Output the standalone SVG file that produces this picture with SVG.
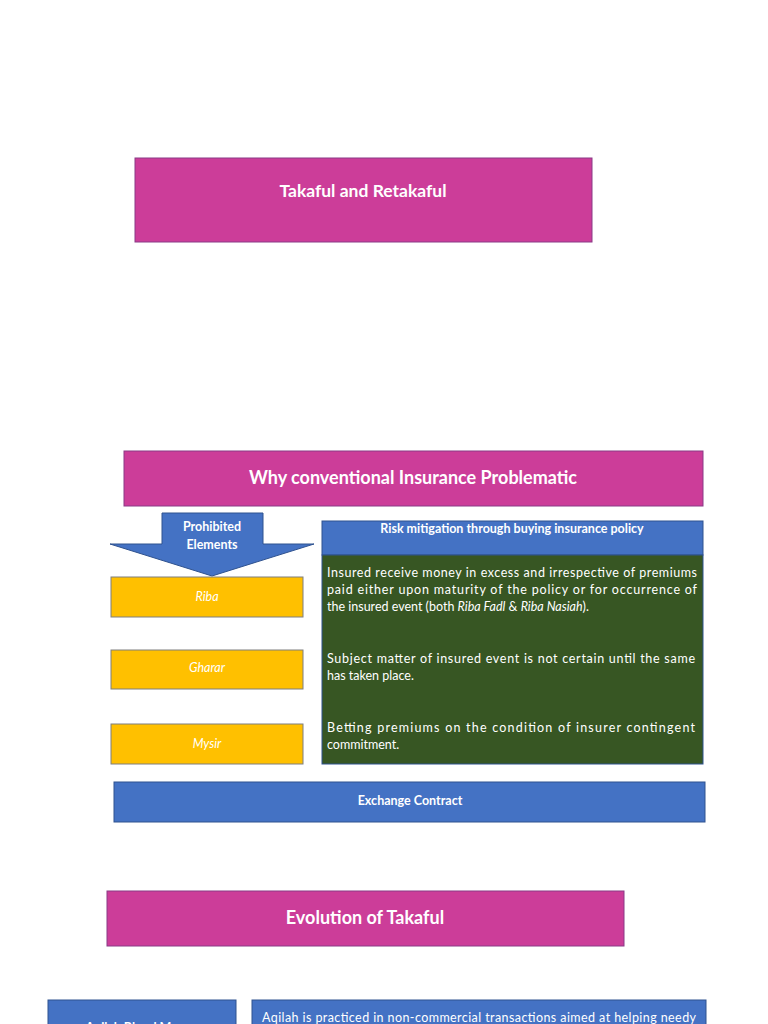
<svg xmlns="http://www.w3.org/2000/svg" width="768" height="1024" viewBox="0 0 768 1024">
<style>
text{font-family:Lato,"Liberation Sans",sans-serif;fill:#fff}
.mag{fill:#cc3d99;stroke:#8a3a86;stroke-width:1}
.blue{fill:#4472c4;stroke:#2f528f;stroke-width:1}
.yel{fill:#ffc000;stroke:#7f7f7f;stroke-width:1}
.grn{fill:#375623;stroke:#2f528f;stroke-width:1}
.t{font-size:12.5px}
.i{font-size:12.5px;font-style:italic}
</style>
<rect width="768" height="1024" fill="#fff"/>
<g id="title1"><rect class="mag" x="135" y="158" width="457" height="84"/><text x="363" y="197" font-size="17.5" font-weight="bold" text-anchor="middle">Takaful and Retakaful</text></g>
<g id="title2"><rect class="mag" x="124" y="451" width="579" height="55"/><text x="413" y="484" font-size="18" font-weight="bold" text-anchor="middle">Why conventional Insurance Problematic</text></g>
<g id="arrow"><polygon points="162,513 263,513 263,544 314,544 212,576 110,544 162,544" fill="#4472c4" stroke="#2f528f"/><text x="212" y="531" class="t" font-weight="bold" text-anchor="middle">Prohibited</text><text x="212" y="549" class="t" font-weight="bold" text-anchor="middle">Elements</text></g>
<g id="riba"><rect class="yel" x="111" y="577" width="192" height="40"/><text x="207" y="601" class="i" text-anchor="middle">Riba</text></g>
<g id="gharar"><rect class="yel" x="111" y="650" width="192" height="39"/><text x="207" y="672" class="i" text-anchor="middle">Gharar</text></g>
<g id="mysir"><rect class="yel" x="111" y="724" width="192" height="40"/><text x="207" y="748" class="i" text-anchor="middle">Mysir</text></g>
<g id="risk"><rect class="blue" x="322" y="521" width="381" height="34"/><text x="512" y="533" class="t" font-weight="bold" text-anchor="middle">Risk mitigation through buying insurance policy</text></g>
<g id="reasons"><rect class="grn" x="322" y="555" width="381" height="209"/>
<text class="t" x="327" y="577" textLength="370" lengthAdjust="spacing">Insured receive money in excess and irrespective of premiums</text>
<text class="t" x="327" y="594" textLength="370" lengthAdjust="spacing">paid either upon maturity of the policy or for  occurrence of</text>
<text class="t" x="327" y="611">the insured event (both <tspan font-style="italic">Riba Fadl</tspan> &amp; <tspan font-style="italic">Riba Nasiah</tspan>).</text>
<text class="t" x="327" y="663" textLength="368" lengthAdjust="spacing">Subject matter of insured event is not certain until the same</text>
<text class="t" x="327" y="680">has taken place.</text>
<text class="t" x="327" y="732" textLength="368" lengthAdjust="spacing">Betting premiums on the condition of insurer contingent</text>
<text class="t" x="327" y="749">commitment.</text></g>
<g id="exchange"><rect class="blue" x="114" y="782" width="591" height="40"/><text x="410" y="805" class="t" font-weight="bold" text-anchor="middle">Exchange Contract</text></g>
<g id="title3"><rect class="mag" x="107" y="891" width="517" height="55"/><text x="365" y="924" font-size="18" font-weight="bold" text-anchor="middle">Evolution of Takaful</text></g>
<g id="aqilahbox"><rect class="blue" x="48" y="1000" width="188" height="40"/><text x="142" y="1032" class="t" font-weight="bold" text-anchor="middle">Aqilah Blood Money</text></g>
<g id="aqilahtext"><rect class="blue" x="252" y="1000" width="454" height="40"/><text x="262" y="1022" class="t" textLength="434" lengthAdjust="spacing">Aqilah is practiced in non-commercial transactions aimed at helping needy</text></g>
<g id="connectors"></g>
</svg>
